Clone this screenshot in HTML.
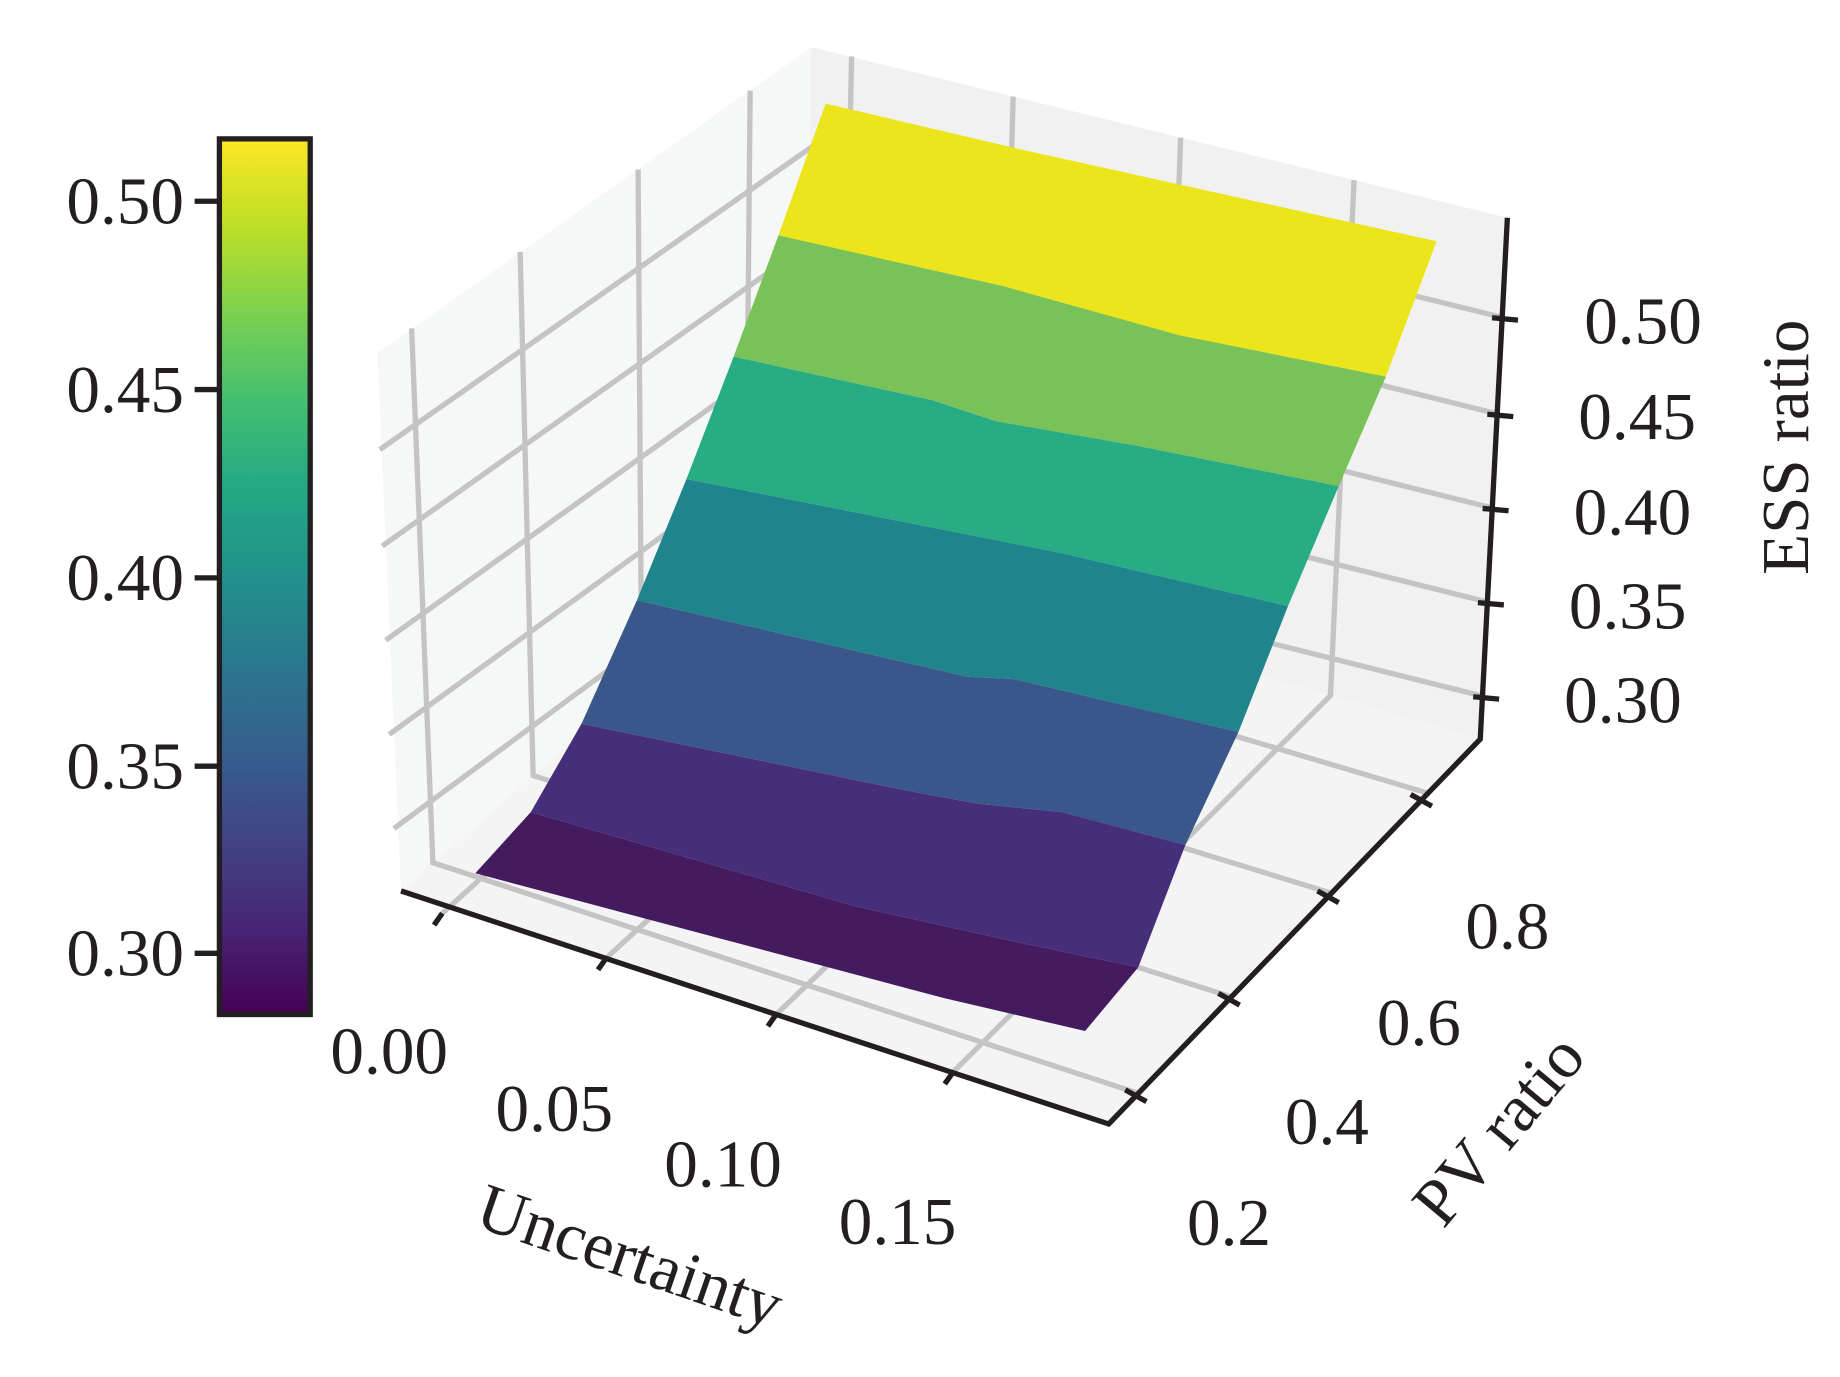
<!DOCTYPE html>
<html><head><meta charset="utf-8"><style>
html,body{margin:0;padding:0;background:#fff;}
svg{display:block;}
text{font-family:"Liberation Serif",serif;fill:#231f20;font-size:57px;}
</style></head><body>
<svg width="1840" height="1377" viewBox="0 0 1560 1170" preserveAspectRatio="none" xmlns="http://www.w3.org/2000/svg">
<defs>
<linearGradient id="vir" x1="0" y1="1" x2="0" y2="0">
<stop offset="0" stop-color="#440154"/>
<stop offset="0.1" stop-color="#482475"/>
<stop offset="0.2" stop-color="#414487"/>
<stop offset="0.3" stop-color="#355f8d"/>
<stop offset="0.4" stop-color="#2a788e"/>
<stop offset="0.5" stop-color="#21918c"/>
<stop offset="0.6" stop-color="#22a884"/>
<stop offset="0.7" stop-color="#44bf70"/>
<stop offset="0.8" stop-color="#7ad151"/>
<stop offset="0.9" stop-color="#bddf26"/>
<stop offset="1" stop-color="#fde725"/>
</linearGradient>
</defs>
<rect width="1560" height="1170" fill="#fff"/>
<polygon points="320,300 688,40 680,460 340,757" fill="#f6f7f7"/>
<polygon points="688,40 1278,185 1255,628 680,460" fill="#f1f1f1"/>
<polygon points="340,757 680,460 1255,628 940,955" fill="#f4f4f4"/>
<g stroke="#c4c4c4" stroke-width="4.5" fill="none">
<polyline points="322,382 688,125 1275,270"/>
<polyline points="324,464 686,207 1271,352"/>
<polyline points="327,544 685,287 1267,432"/>
<polyline points="330,624 683,367 1263,512"/>
<polyline points="334,704 681,447 1259,592"/>
<polyline points="375,776 713,470 722,48"/>
<polyline points="514,814 847,509 859,82"/>
<polyline points="658,862 985,549 1001,117"/>
<polyline points="808,911 1128,591 1148,153"/>
<polyline points="349,279 367,733 965,929"/>
<polyline points="441,214 452,659 1044,847"/>
<polyline points="541,144 544,579 1129,759"/>
<polyline points="636,77 632,502 1211,674"/>
</g>
<polygon points="700,88 870,128 1218,205 1175,320 1000,285 850,243 660,200" fill="#ece51b"/>
<polygon points="660,200 850,243 1000,285 1175,320 1135,413 960,378 845,358 790,340 622,303" fill="#79c25a"/>
<polygon points="622,303 790,340 845,358 960,378 1135,413 1092,515 900,470 582,407" fill="#27ac84"/>
<polygon points="582,407 900,470 1092,515 1050,622 860,577 820,575 540,510" fill="#1f848c"/>
<polygon points="540,510 820,575 860,577 1050,622 1005,718 900,690 830,683 770,672 493,615" fill="#3a578b"/>
<polygon points="493,615 770,672 830,683 900,690 1005,718 965,822 860,800 725,770 450,690" fill="#472e7b"/>
<polygon points="450,690 725,770 860,800 965,822 920,876 800,848 403,742" fill="#451b5f"/>
<g stroke="#231f20" stroke-width="4.5" fill="none">
<polyline points="340,757 940,955 1255,628 1278,185"/>
<line x1="375" y1="776" x2="368" y2="786"/>
<line x1="514" y1="814" x2="507" y2="824"/>
<line x1="658" y1="862" x2="651" y2="872"/>
<line x1="808" y1="911" x2="801" y2="921"/>
<line x1="954" y1="926" x2="972" y2="936"/>
<line x1="1033" y1="844" x2="1051" y2="854"/>
<line x1="1117" y1="757" x2="1135" y2="767"/>
<line x1="1196" y1="675" x2="1214" y2="685"/>
<line x1="1265" y1="270" x2="1287" y2="272"/>
<line x1="1261" y1="352" x2="1283" y2="354"/>
<line x1="1257" y1="432" x2="1279" y2="434"/>
<line x1="1253" y1="512" x2="1275" y2="514"/>
<line x1="1249" y1="592" x2="1271" y2="594"/>
</g>
<text x="330" y="912" text-anchor="middle">0.00</text>
<text x="470" y="961" text-anchor="middle">0.05</text>
<text x="613" y="1008" text-anchor="middle">0.10</text>
<text x="761" y="1057" text-anchor="middle">0.15</text>
<text transform="translate(528,1085) rotate(19)" text-anchor="middle">Uncertainty</text>
<text x="1042" y="1058" text-anchor="middle">0.2</text>
<text x="1125" y="972" text-anchor="middle">0.4</text>
<text x="1203" y="888" text-anchor="middle">0.6</text>
<text x="1278" y="806" text-anchor="middle">0.8</text>
<text transform="translate(1285,972) rotate(-50)" text-anchor="middle">PV ratio</text>
<text x="1393" y="292" text-anchor="middle">0.50</text>
<text x="1388" y="373" text-anchor="middle">0.45</text>
<text x="1384" y="454" text-anchor="middle">0.40</text>
<text x="1380" y="534" text-anchor="middle">0.35</text>
<text x="1376" y="614" text-anchor="middle">0.30</text>
<text transform="translate(1533,380) rotate(-90)" text-anchor="middle">ESS ratio</text>
<rect x="186" y="118" width="77" height="744" fill="url(#vir)" stroke="#231f20" stroke-width="4.5"/>
<g stroke="#231f20" stroke-width="4.5">
<line x1="165" y1="171" x2="186" y2="171"/>
<line x1="165" y1="331" x2="186" y2="331"/>
<line x1="165" y1="491" x2="186" y2="491"/>
<line x1="165" y1="651" x2="186" y2="651"/>
<line x1="165" y1="810" x2="186" y2="810"/>
</g>
<text x="156" y="190" text-anchor="end">0.50</text>
<text x="156" y="350" text-anchor="end">0.45</text>
<text x="156" y="510" text-anchor="end">0.40</text>
<text x="156" y="670" text-anchor="end">0.35</text>
<text x="156" y="829" text-anchor="end">0.30</text>
</svg>
</body></html>
